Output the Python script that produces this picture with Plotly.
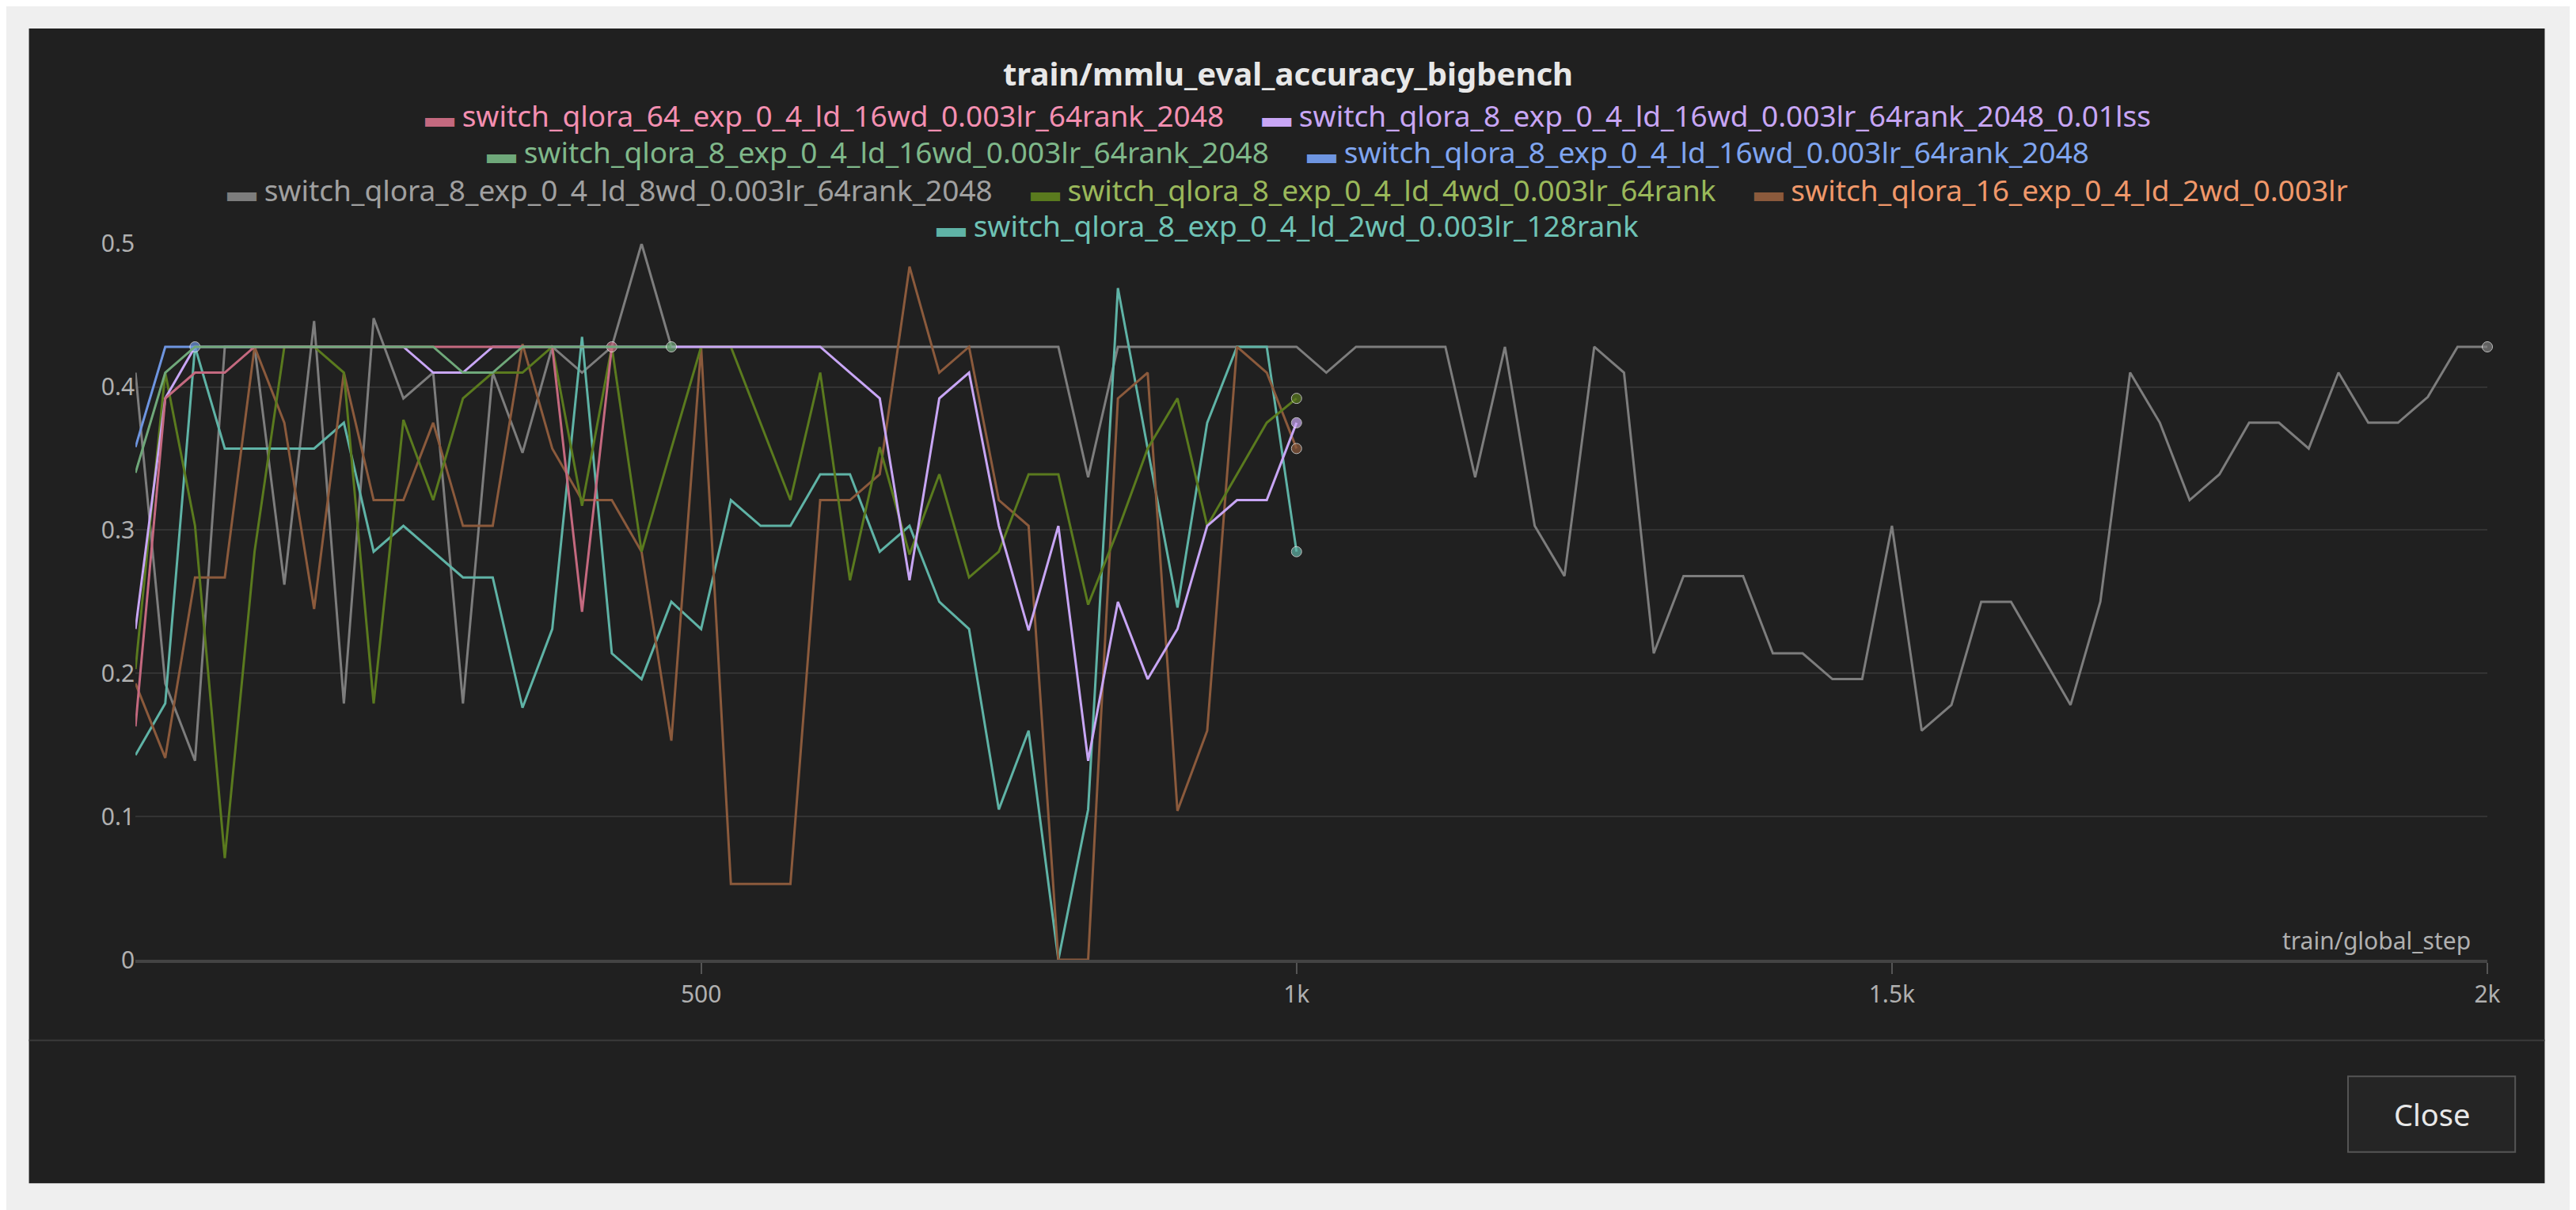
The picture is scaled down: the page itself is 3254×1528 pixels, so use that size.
import plotly.graph_objects as go

W, H = 3254, 1528
names = [
    "switch_qlora_64_exp_0_4_ld_16wd_0.003lr_64rank_2048",
    "switch_qlora_8_exp_0_4_ld_16wd_0.003lr_64rank_2048_0.01lss",
    "switch_qlora_8_exp_0_4_ld_16wd_0.003lr_64rank_2048",
    "switch_qlora_8_exp_0_4_ld_16wd_0.003lr_64rank_2048 ",
    "switch_qlora_8_exp_0_4_ld_8wd_0.003lr_64rank_2048",
    "switch_qlora_8_exp_0_4_ld_4wd_0.003lr_64rank",
    "switch_qlora_16_exp_0_4_ld_2wd_0.003lr",
    "switch_qlora_8_exp_0_4_ld_2wd_0.003lr_128rank",
]
line_colors = ["#c4697f", "#c8a6f5", "#6fa87a", "#6e95e0", "#7d7d7d", "#5a7a1e", "#8b5a3c", "#5fb3a6"]
text_colors = ["#f48fb1", "#c8a6f5", "#7fb88a", "#7fa5f0", "#a0a0a0", "#9ab85a", "#f0986a", "#6fc3b6"]

pink = [0.163, 0.392, 0.41, 0.41, 0.428, 0.428, 0.428, 0.428, 0.428, 0.428, 0.428, 0.428, 0.428, 0.428, 0.428, 0.243, 0.428]
lavender = [0.231, 0.392, 0.428, 0.428, 0.428, 0.428, 0.428, 0.428, 0.428, 0.428, 0.41, 0.41, 0.428, 0.428, 0.428, 0.428,
            0.428, 0.428, 0.428, 0.428, 0.428, 0.428, 0.428, 0.428, 0.41, 0.392, 0.265, 0.392, 0.41, 0.303, 0.23, 0.303,
            0.139, 0.25, 0.196, 0.231, 0.303, 0.321, 0.321, 0.375]
green = [0.34, 0.41, 0.428, 0.428, 0.428, 0.428, 0.428, 0.428, 0.428, 0.428, 0.428, 0.41, 0.41, 0.428, 0.428, 0.428,
         0.428, 0.428, 0.428]
blue = [0.358, 0.428, 0.428]
gray = [0.41, 0.193, 0.139, 0.428, 0.428, 0.262, 0.446, 0.179, 0.448, 0.392, 0.41, 0.179, 0.41, 0.354, 0.428, 0.41,
        0.428, 0.5, 0.428, 0.428, 0.428, 0.428, 0.428, 0.428, 0.428, 0.428, 0.428, 0.428, 0.428, 0.428, 0.428, 0.428,
        0.337, 0.428, 0.428, 0.428, 0.428, 0.428, 0.428, 0.428,
        0.41, 0.428, 0.428, 0.428, 0.428, 0.337, 0.428, 0.303, 0.268, 0.428, 0.41, 0.214, 0.268, 0.268, 0.268, 0.214,
        0.214, 0.196, 0.196, 0.303, 0.16, 0.178, 0.25, 0.25, 0.214, 0.178, 0.25, 0.41, 0.375, 0.321, 0.339, 0.375,
        0.375, 0.357, 0.41, 0.375, 0.375, 0.393, 0.428, 0.428]
olive = [0.203, 0.41, 0.303, 0.071, 0.285, 0.428, 0.428, 0.41, 0.179, 0.377, 0.321, 0.392, 0.41, 0.41, 0.428, 0.317,
         0.428, 0.285, 0.357, 0.428, 0.428, 0.374, 0.321, 0.41, 0.265, 0.358, 0.283, 0.339, 0.267, 0.285, 0.339, 0.339,
         0.248, 0.3, 0.357, 0.392, 0.303, 0.339, 0.375, 0.392]
brown = [0.193, 0.141, 0.267, 0.267, 0.428, 0.375, 0.245, 0.41, 0.321, 0.321, 0.375, 0.303, 0.303, 0.43, 0.357, 0.321,
         0.321, 0.285, 0.153, 0.428, 0.053, 0.053, 0.053, 0.321, 0.321, 0.339, 0.484, 0.41, 0.428, 0.321, 0.303, 0.0,
         0.0, 0.392, 0.41, 0.104, 0.16, 0.428, 0.41, 0.357]
teal = [0.143, 0.179, 0.428, 0.357, 0.357, 0.357, 0.357, 0.375, 0.285, 0.303, 0.285, 0.267, 0.267, 0.176, 0.231, 0.435,
        0.214, 0.196, 0.25, 0.231, 0.321, 0.303, 0.303, 0.339, 0.339, 0.285, 0.303, 0.25, 0.231, 0.105, 0.16, 0.0,
        0.105, 0.469, 0.357, 0.246, 0.375, 0.428, 0.428, 0.285]

series = [pink, lavender, green, blue, gray, olive, brown, teal]
draw_order = [4, 7, 6, 5, 1, 0, 3, 2]

fig = go.Figure()
for i in draw_order:
    ys = series[i]
    xs = [25 * (k + 1) for k in range(len(ys))]
    fig.add_trace(go.Scatter(x=xs, y=ys, mode="lines+markers", name=names[i],
                             line=dict(color=line_colors[i], width=3),
                             marker=dict(size=[0] * (len(ys) - 1) + [13], color=line_colors[i]),
                             showlegend=False, cliponaxis=False))

# positions measured on the reference (half-scale), mapped to paper fractions
def px(d):
    return ((d - 4.2) / 0.4805) / W

def py(d):
    return 1 - ((d - 13.6) / 0.4695) / H

shapes = [
    dict(type="rect", xref="paper", yref="paper", x0=px(18), x1=px(1553), y0=py(720), y1=py(17),
         fillcolor="#202020", line=dict(width=0), layer="below"),
    dict(type="line", xref="paper", yref="paper", x0=px(18), x1=px(1553), y0=py(633), y1=py(633),
         line=dict(color="#3a3a3a", width=2)),
    dict(type="rect", xref="paper", yref="paper", x0=px(1433), x1=px(1535), y0=py(701), y1=py(655),
         fillcolor="#252525", line=dict(color="#555555", width=2)),
]

rows = [[0, 1], [2, 3], [4, 5, 6], [7]]
row_y = [70, 92, 115, 137]
annotations = []
for r, ys_ in zip(rows, row_y):
    parts = []
    for i in r:
        parts.append(f"<span style='color:{line_colors[i]}'>▬</span> <span style='color:{text_colors[i]}'>{names[i].strip()}</span>")
    annotations.append(dict(text="     ".join(parts), xref="paper", yref="paper", x=px(786), y=py(ys_),
                            showarrow=False, xanchor="center", yanchor="middle",
                            font=dict(size=37, family="Noto Sans")))
annotations += [
    dict(text="<b>train/mmlu_eval_accuracy_bigbench</b>", xref="paper", yref="paper", x=px(786), y=py(44),
         showarrow=False, xanchor="center", yanchor="middle",
         font=dict(size=40, color="#e8e8e8", family="Noto Sans")),
    dict(text="train/global_step", xref="paper", yref="paper", x=px(1509), y=py(572), showarrow=False,
         xanchor="right", yanchor="middle", font=dict(size=30, color="#b0b0b0", family="Noto Sans")),
    dict(text="Close", xref="paper", yref="paper", x=px(1484), y=py(678), showarrow=False,
         xanchor="center", yanchor="middle",
         font=dict(size=38, color="#e8e8e8", family="Noto Sans")),
]

fig.update_layout(
    width=W, height=H, margin=dict(l=0, r=0, t=0, b=0),
    paper_bgcolor="#efefef", plot_bgcolor="#202020",
    shapes=shapes, annotations=annotations,
    xaxis=dict(domain=[px(83), px(1518)], range=[25, 2000], tickvals=[500, 1000, 1500, 2000],
               ticktext=["500", "1k", "1.5k", "2k"], showgrid=False, zeroline=False,
               ticks="outside", ticklen=14, tickcolor="#555", tickwidth=2,
               showline=True, linecolor="#444", linewidth=4,
               tickfont=dict(size=30, color="#b0b0b0", family="Noto Sans")),
    yaxis=dict(domain=[py(584), py(148)], range=[0, 0.5], tickvals=[0, 0.1, 0.2, 0.3, 0.4, 0.5],
               ticktext=["0", "0.1", "0.2", "0.3", "0.4", "0.5"], gridcolor="#333333", gridwidth=2,
               zeroline=False, showline=False, ticks="",
               tickfont=dict(size=30, color="#b0b0b0", family="Noto Sans")),
)
fig.write_html("out.html")
